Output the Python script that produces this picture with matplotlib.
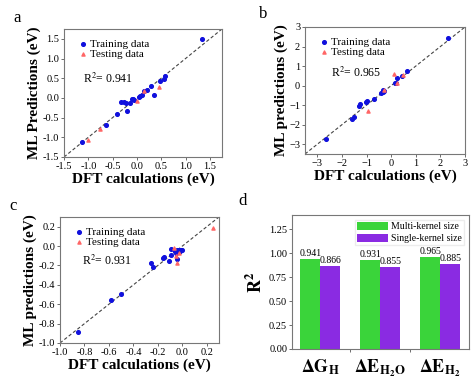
import numpy as np
import matplotlib.pyplot as plt

plt.rcParams['font.family'] = ['Liberation Serif', 'DejaVu Serif']
plt.rcParams['mathtext.fontset'] = 'stix'

# panel a: delta G_H
a_train_x = [1.33, 0.57, 0.55, 0.48, 0.35, 0.28, 0.20, 0.15, 0.10, 0.07, 0.05, -0.05, -0.08, -0.10,
             -0.15, -0.20, -0.22, -0.27, -0.33, -0.40, -0.63, -1.12]
a_train_y = [1.50, 0.55, 0.48, 0.42, 0.07, 0.30, 0.20, 0.18, 0.08, 0.05, 0.03, -0.05, -0.03, -0.02,
             -0.12, -0.32, -0.12, -0.10, -0.11, -0.42, -0.68, -1.13]
a_test_x = [-1.00, -0.75, 0.00, 0.15, 0.45]
a_test_y = [-1.08, -0.80, -0.08, 0.17, 0.28]

# panel b: delta E_H2
b_train_x = [2.30, 0.65, 0.45, 0.25, 0.20, 0.15, -0.30, -0.35, -0.40, -0.35, -0.70, -1.00, -1.02,
             -1.25, -1.30, -1.50, -1.60, -2.65]
b_train_y = [2.45, 0.75, 0.50, 0.40, 0.15, 0.12, -0.30, -0.35, -0.40, -0.20, -0.70, -0.80, -0.85,
             -0.95, -1.05, -1.60, -1.70, -2.75]
b_test_x = [0.10, 0.50, 0.25, -0.95, -0.30]
b_test_y = [0.60, 0.55, 0.15, -1.30, -0.25]

# panel c: delta E_H2O
c_train_x = [-0.85, -0.58, -0.50, -0.26, -0.24, -0.16, -0.15, -0.11, -0.09, -0.09, -0.06, -0.05,
             -0.04, -0.03, -0.02, -0.01, 0.00, -0.04, -0.03]
c_train_y = [-0.89, -0.56, -0.49, -0.17, -0.22, -0.12, -0.11, -0.15, -0.09, -0.03, -0.05, -0.07,
             -0.04, -0.04, -0.05, -0.04, -0.04, -0.13, -0.06]
c_test_x = [0.25, -0.07, -0.05, -0.04, -0.03]
c_test_y = [0.19, -0.02, -0.10, -0.17, -0.07]

# panel d: R2 comparison
d_labels = [r'$\mathbf{\Delta G_H}$', r'$\mathbf{\Delta E_{H_2O}}$', r'$\mathbf{\Delta E_{H_2}}$']
d_multi = [0.941, 0.931, 0.965]
d_single = [0.866, 0.855, 0.885]

fig = plt.figure(figsize=(4.74, 3.85), dpi=100)
W, H = 474, 385


def add_ax(x0, y0, x1, y1):
    return fig.add_axes([x0 / W, 1 - y1 / H, (x1 - x0) / W, (y1 - y0) / H])


def style(ax):
    for s in ax.spines.values():
        s.set_color('#777777')
        s.set_linewidth(0.8)
    ax.tick_params(labelsize=7.5, length=2.5, width=0.6, color='#555555', pad=1)


def scatter_panel(ax, tx, ty, sx, sy, lim, ticks, r2, ylabel, r2pos):
    ax.plot(lim, lim, ls=(0, (3, 2)), color='#444444', lw=0.8)
    ax.scatter(tx, ty, s=7, color='#1010dd', label='Training data', zorder=3)
    ax.scatter(sx, sy, s=5, marker='^', color='#ff6666', label='Testing data', zorder=3)
    ax.set_xlim(lim)
    ax.set_ylim(lim)
    ax.set_xticks(ticks)
    ax.set_yticks(ticks)
    style(ax)
    ax.set_xlabel('DFT calculations (eV)', fontsize=11, fontweight='bold', labelpad=1)
    ax.set_ylabel(ylabel, fontsize=11, fontweight='bold', labelpad=1)
    ax.legend(loc='upper left', fontsize=8, frameon=False, handletextpad=0.3,
              borderpad=0.2, labelspacing=0.0, handlelength=0.8, bbox_to_anchor=(0.04, 0.98))
    ax.text(r2pos[0], r2pos[1], r'R$^2$= ' + r2, transform=ax.transAxes, fontsize=8.5,
            va='center')


ax_a = add_ax(64, 29, 222, 157)
scatter_panel(ax_a, a_train_x, a_train_y, a_test_x, a_test_y, [-1.5, 1.75],
              [-1.5, -1.0, -0.5, 0.0, 0.5, 1.0, 1.5], '0.941', 'ML Predictions (eV)',
              (0.12, 0.61))
ax_a.set_xticklabels(['-1.5', '-1.0', '-0.5', '0.0', '0.5', '1.0', '1.5'])
ax_a.set_yticklabels(['-1.5', '-1.0', '-0.5', '0.0', '0.5', '1.0', '1.5'])

ax_b = add_ax(305, 27, 465, 154)
scatter_panel(ax_b, b_train_x, b_train_y, b_test_x, b_test_y, [-3.5, 3.0],
              [-3, -2, -1, 0, 1, 2, 3], '0.965', 'ML predictions (eV)', (0.16, 0.64))

ax_c = add_ax(60, 217, 219, 343)
scatter_panel(ax_c, c_train_x, c_train_y, c_test_x, c_test_y, [-1.0, 0.3],
              [-1.0, -0.8, -0.6, -0.4, -0.2, 0.0, 0.2], '0.931', 'ML predictions (eV)',
              (0.14, 0.65))
ax_c.set_xticklabels(['-1.0', '-0.8', '-0.6', '-0.4', '-0.2', '0.0', '0.2'])
ax_c.set_yticklabels(['-1.0', '-0.8', '-0.6', '-0.4', '-0.2', '0.0', '0.2'])

ax_d = add_ax(292, 215, 469, 349)
x = np.arange(len(d_labels))
w = 0.333
b1 = ax_d.bar(x - w / 2, d_multi, w, color='#3ad43a', label='Multi-kernel size')
b2 = ax_d.bar(x + w / 2, d_single, w, color='#8a2be2', label='Single-kernel size')
for bars, vals in ((b1, d_multi), (b2, d_single)):
    for r, v in zip(bars, vals):
        ax_d.text(r.get_x() + r.get_width() / 2, v + 0.01, f'{v:.3f}', ha='center',
                  va='bottom', fontsize=7)
ax_d.set_xlim(-0.47, 2.48)
ax_d.set_ylim(0, 1.4)
ax_d.set_yticks([0, 0.25, 0.5, 0.75, 1.0, 1.25])
ax_d.set_yticklabels(['0.00', '0.25', '0.50', '0.75', '1.00', '1.25'])
ax_d.set_xticks(x)
ax_d.set_xticks([0.5, 1.5], minor=True)
style(ax_d)
ax_d.set_xticklabels(d_labels, fontsize=13)
ax_d.tick_params(axis='x', which='major', length=0, pad=6)
ax_d.tick_params(axis='x', which='minor', length=2.5, width=0.6, color='#555555')
ax_d.set_ylabel(r'$\mathbf{R^2}$', fontsize=13, labelpad=2)
ax_d.legend(loc='upper right', fontsize=7, frameon=True, fancybox=False, edgecolor='#e8e8e8',
            handlelength=3.2, handleheight=0.9, borderpad=0.2, labelspacing=0.25,
            handletextpad=0.3, bbox_to_anchor=(1.0, 1.0))

for lbl, px, py in (('a', 17, 18), ('b', 263, 14), ('c', 13, 206), ('d', 243, 201)):
    fig.text(px / W, 1 - py / H, lbl, fontsize=12, ha='center', va='center')

fig.savefig('out.png', dpi=100)
